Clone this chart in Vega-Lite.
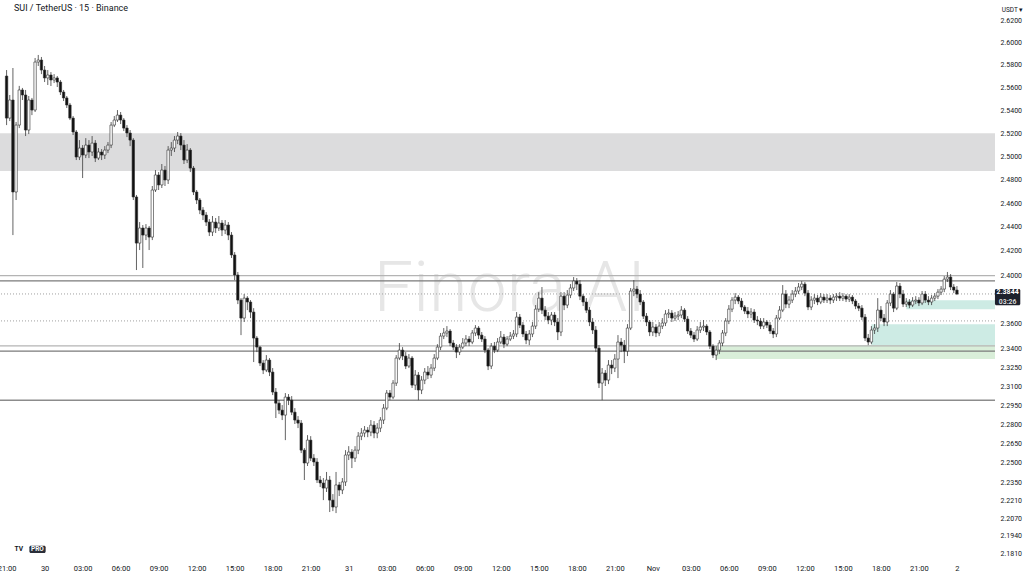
{
  "$schema": "https://vega.github.io/schema/vega-lite/v6.json",
  "width": 995,
  "height": 560,
  "autosize": {"type": "none"},
  "padding": {"left": 0, "top": 0, "right": 29, "bottom": 16},
  "background": "#ffffff",
  "config": {
    "view": {"stroke": null},
    "font": "Roboto",
    "axisX": {"domain": false, "ticks": false, "grid": false, "labelFont": "Roboto", "labelFontSize": 7.5, "labelColor": "#131722", "labelPadding": 4},
    "axisY": {"domain": false, "ticks": false, "grid": false, "labelFont": "Roboto", "labelFontSize": 7, "labelColor": "#131722", "labelPadding": 5, "titleFont": "Roboto", "titleFontSize": 6.5, "titleFontWeight": "normal", "titleColor": "#131722"}
  },
  "title": {"text": "SUI / TetherUS · 15 · Binance", "anchor": "start", "frame": "group", "fontSize": 9, "font": "Roboto", "fontWeight": "normal", "color": "#131722", "offset": -13, "dx": 14},
  "datasets": {
    "candles": [
      {"t":"2025-10-29T21:00Z","o":2.5700,"h":2.5753,"l":2.5270,"c":2.5331},
      {"t":"2025-10-29T21:15Z","o":2.5331,"h":2.5533,"l":2.5305,"c":2.5489},
      {"t":"2025-10-29T21:30Z","o":2.5489,"h":2.5771,"l":2.4332,"c":2.4695},
      {"t":"2025-10-29T21:45Z","o":2.4695,"h":2.5297,"l":2.4627,"c":2.5270},
      {"t":"2025-10-29T22:00Z","o":2.5270,"h":2.5613,"l":2.5244,"c":2.5577},
      {"t":"2025-10-29T22:15Z","o":2.5577,"h":2.5595,"l":2.5489,"c":2.5533},
      {"t":"2025-10-29T22:30Z","o":2.5533,"h":2.5577,"l":2.5175,"c":2.5227},
      {"t":"2025-10-29T22:45Z","o":2.5227,"h":2.5524,"l":2.5192,"c":2.5489},
      {"t":"2025-10-29T23:00Z","o":2.5489,"h":2.5507,"l":2.5357,"c":2.5401},
      {"t":"2025-10-29T23:15Z","o":2.5401,"h":2.5860,"l":2.5384,"c":2.5824},
      {"t":"2025-10-29T23:30Z","o":2.5824,"h":2.5887,"l":2.5789,"c":2.5842},
      {"t":"2025-10-29T23:45Z","o":2.5842,"h":2.5869,"l":2.5717,"c":2.5753},
      {"t":"2025-10-30T00:00Z","o":2.5753,"h":2.5789,"l":2.5647,"c":2.5683},
      {"t":"2025-10-30T00:15Z","o":2.5683,"h":2.5753,"l":2.5621,"c":2.5709},
      {"t":"2025-10-30T00:30Z","o":2.5709,"h":2.5735,"l":2.5612,"c":2.5665},
      {"t":"2025-10-30T00:45Z","o":2.5665,"h":2.5717,"l":2.5638,"c":2.5683},
      {"t":"2025-10-30T01:00Z","o":2.5683,"h":2.5700,"l":2.5603,"c":2.5647},
      {"t":"2025-10-30T01:15Z","o":2.5647,"h":2.5665,"l":2.5533,"c":2.5559},
      {"t":"2025-10-30T01:30Z","o":2.5559,"h":2.5577,"l":2.5480,"c":2.5507},
      {"t":"2025-10-30T01:45Z","o":2.5507,"h":2.5524,"l":2.5419,"c":2.5445},
      {"t":"2025-10-30T02:00Z","o":2.5445,"h":2.5463,"l":2.5314,"c":2.5331},
      {"t":"2025-10-30T02:15Z","o":2.5331,"h":2.5349,"l":2.5184,"c":2.5210},
      {"t":"2025-10-30T02:30Z","o":2.5210,"h":2.5227,"l":2.4968,"c":2.4994},
      {"t":"2025-10-30T02:45Z","o":2.4994,"h":2.5140,"l":2.4968,"c":2.5071},
      {"t":"2025-10-30T03:00Z","o":2.5071,"h":2.5097,"l":2.4814,"c":2.5011},
      {"t":"2025-10-30T03:15Z","o":2.5011,"h":2.5157,"l":2.4985,"c":2.5097},
      {"t":"2025-10-30T03:30Z","o":2.5097,"h":2.5140,"l":2.4985,"c":2.5037},
      {"t":"2025-10-30T03:45Z","o":2.5037,"h":2.5175,"l":2.5003,"c":2.5114},
      {"t":"2025-10-30T04:00Z","o":2.5114,"h":2.5140,"l":2.4951,"c":2.4985},
      {"t":"2025-10-30T04:15Z","o":2.4985,"h":2.5071,"l":2.4968,"c":2.5037},
      {"t":"2025-10-30T04:30Z","o":2.5037,"h":2.5062,"l":2.4968,"c":2.5011},
      {"t":"2025-10-30T04:45Z","o":2.5011,"h":2.5088,"l":2.4977,"c":2.5054},
      {"t":"2025-10-30T05:00Z","o":2.5054,"h":2.5123,"l":2.5028,"c":2.5097},
      {"t":"2025-10-30T05:15Z","o":2.5097,"h":2.5297,"l":2.5071,"c":2.5270},
      {"t":"2025-10-30T05:30Z","o":2.5270,"h":2.5349,"l":2.5253,"c":2.5314},
      {"t":"2025-10-30T05:45Z","o":2.5314,"h":2.5401,"l":2.5297,"c":2.5357},
      {"t":"2025-10-30T06:00Z","o":2.5357,"h":2.5384,"l":2.5279,"c":2.5314},
      {"t":"2025-10-30T06:15Z","o":2.5314,"h":2.5331,"l":2.5218,"c":2.5244},
      {"t":"2025-10-30T06:30Z","o":2.5244,"h":2.5270,"l":2.5166,"c":2.5201},
      {"t":"2025-10-30T06:45Z","o":2.5201,"h":2.5227,"l":2.5088,"c":2.5140},
      {"t":"2025-10-30T07:00Z","o":2.5140,"h":2.5157,"l":2.4627,"c":2.4653},
      {"t":"2025-10-30T07:15Z","o":2.4653,"h":2.4670,"l":2.4041,"c":2.4265},
      {"t":"2025-10-30T07:30Z","o":2.4265,"h":2.4441,"l":2.4207,"c":2.4391},
      {"t":"2025-10-30T07:45Z","o":2.4391,"h":2.4416,"l":2.4058,"c":2.4332},
      {"t":"2025-10-30T08:00Z","o":2.4332,"h":2.4424,"l":2.4290,"c":2.4391},
      {"t":"2025-10-30T08:15Z","o":2.4391,"h":2.4408,"l":2.4207,"c":2.4315},
      {"t":"2025-10-30T08:30Z","o":2.4315,"h":2.4746,"l":2.4290,"c":2.4712},
      {"t":"2025-10-30T08:45Z","o":2.4712,"h":2.4882,"l":2.4695,"c":2.4840},
      {"t":"2025-10-30T09:00Z","o":2.4840,"h":2.4865,"l":2.4712,"c":2.4755},
      {"t":"2025-10-30T09:15Z","o":2.4755,"h":2.4934,"l":2.4729,"c":2.4882},
      {"t":"2025-10-30T09:30Z","o":2.4882,"h":2.4917,"l":2.4746,"c":2.4797},
      {"t":"2025-10-30T09:45Z","o":2.4797,"h":2.5088,"l":2.4763,"c":2.5054},
      {"t":"2025-10-30T10:00Z","o":2.5054,"h":2.5123,"l":2.5003,"c":2.5071},
      {"t":"2025-10-30T10:15Z","o":2.5071,"h":2.5175,"l":2.5037,"c":2.5140},
      {"t":"2025-10-30T10:30Z","o":2.5140,"h":2.5210,"l":2.5105,"c":2.5175},
      {"t":"2025-10-30T10:45Z","o":2.5175,"h":2.5201,"l":2.5054,"c":2.5097},
      {"t":"2025-10-30T11:00Z","o":2.5097,"h":2.5140,"l":2.4934,"c":2.4968},
      {"t":"2025-10-30T11:15Z","o":2.4968,"h":2.5105,"l":2.4942,"c":2.5054},
      {"t":"2025-10-30T11:30Z","o":2.5054,"h":2.5071,"l":2.4865,"c":2.4899},
      {"t":"2025-10-30T11:45Z","o":2.4899,"h":2.4917,"l":2.4669,"c":2.4695},
      {"t":"2025-10-30T12:00Z","o":2.4695,"h":2.4712,"l":2.4593,"c":2.4627},
      {"t":"2025-10-30T12:15Z","o":2.4627,"h":2.4644,"l":2.4508,"c":2.4542},
      {"t":"2025-10-30T12:30Z","o":2.4542,"h":2.4567,"l":2.4458,"c":2.4500},
      {"t":"2025-10-30T12:45Z","o":2.4500,"h":2.4525,"l":2.4408,"c":2.4441},
      {"t":"2025-10-30T13:00Z","o":2.4441,"h":2.4466,"l":2.4324,"c":2.4357},
      {"t":"2025-10-30T13:15Z","o":2.4357,"h":2.4492,"l":2.4324,"c":2.4441},
      {"t":"2025-10-30T13:30Z","o":2.4441,"h":2.4475,"l":2.4349,"c":2.4391},
      {"t":"2025-10-30T13:45Z","o":2.4391,"h":2.4492,"l":2.4366,"c":2.4433},
      {"t":"2025-10-30T14:00Z","o":2.4433,"h":2.4458,"l":2.4324,"c":2.4374},
      {"t":"2025-10-30T14:15Z","o":2.4374,"h":2.4458,"l":2.4340,"c":2.4416},
      {"t":"2025-10-30T14:30Z","o":2.4416,"h":2.4441,"l":2.4290,"c":2.4332},
      {"t":"2025-10-30T14:45Z","o":2.4332,"h":2.4357,"l":2.4141,"c":2.4166},
      {"t":"2025-10-30T15:00Z","o":2.4166,"h":2.4190,"l":2.3958,"c":2.4000},
      {"t":"2025-10-30T15:15Z","o":2.4000,"h":2.4025,"l":2.3761,"c":2.3794},
      {"t":"2025-10-30T15:30Z","o":2.3794,"h":2.3810,"l":2.3509,"c":2.3647},
      {"t":"2025-10-30T15:45Z","o":2.3647,"h":2.3843,"l":2.3615,"c":2.3810},
      {"t":"2025-10-30T16:00Z","o":2.3810,"h":2.3826,"l":2.3712,"c":2.3778},
      {"t":"2025-10-30T16:15Z","o":2.3778,"h":2.3794,"l":2.3647,"c":2.3696},
      {"t":"2025-10-30T16:30Z","o":2.3696,"h":2.3728,"l":2.3292,"c":2.3485},
      {"t":"2025-10-30T16:45Z","o":2.3485,"h":2.3501,"l":2.3372,"c":2.3412},
      {"t":"2025-10-30T17:00Z","o":2.3412,"h":2.3420,"l":2.3260,"c":2.3284},
      {"t":"2025-10-30T17:15Z","o":2.3284,"h":2.3308,"l":2.3196,"c":2.3228},
      {"t":"2025-10-30T17:30Z","o":2.3228,"h":2.3348,"l":2.3212,"c":2.3308},
      {"t":"2025-10-30T17:45Z","o":2.3308,"h":2.3324,"l":2.3180,"c":2.3212},
      {"t":"2025-10-30T18:00Z","o":2.3212,"h":2.3244,"l":2.3029,"c":2.3053},
      {"t":"2025-10-30T18:15Z","o":2.3053,"h":2.3085,"l":2.2848,"c":2.2965},
      {"t":"2025-10-30T18:30Z","o":2.2965,"h":2.2989,"l":2.2879,"c":2.2910},
      {"t":"2025-10-30T18:45Z","o":2.2910,"h":2.2950,"l":2.2832,"c":2.2871},
      {"t":"2025-10-30T19:00Z","o":2.2871,"h":2.3045,"l":2.2675,"c":2.3013},
      {"t":"2025-10-30T19:15Z","o":2.3013,"h":2.3037,"l":2.2950,"c":2.2989},
      {"t":"2025-10-30T19:30Z","o":2.2989,"h":2.3021,"l":2.2871,"c":2.2894},
      {"t":"2025-10-30T19:45Z","o":2.2894,"h":2.2926,"l":2.2801,"c":2.2832},
      {"t":"2025-10-30T20:00Z","o":2.2832,"h":2.2863,"l":2.2769,"c":2.2808},
      {"t":"2025-10-30T20:15Z","o":2.2808,"h":2.2832,"l":2.2574,"c":2.2597},
      {"t":"2025-10-30T20:30Z","o":2.2597,"h":2.2613,"l":2.2366,"c":2.2497},
      {"t":"2025-10-30T20:45Z","o":2.2497,"h":2.2714,"l":2.2474,"c":2.2675},
      {"t":"2025-10-30T21:00Z","o":2.2675,"h":2.2706,"l":2.2512,"c":2.2535},
      {"t":"2025-10-30T21:15Z","o":2.2535,"h":2.2566,"l":2.2474,"c":2.2505},
      {"t":"2025-10-30T21:30Z","o":2.2505,"h":2.2535,"l":2.2343,"c":2.2366},
      {"t":"2025-10-30T21:45Z","o":2.2366,"h":2.2397,"l":2.2312,"c":2.2343},
      {"t":"2025-10-30T22:00Z","o":2.2343,"h":2.2381,"l":2.2212,"c":2.2304},
      {"t":"2025-10-30T22:15Z","o":2.2304,"h":2.2428,"l":2.2274,"c":2.2366},
      {"t":"2025-10-30T22:30Z","o":2.2366,"h":2.2397,"l":2.2121,"c":2.2212},
      {"t":"2025-10-30T22:45Z","o":2.2212,"h":2.2258,"l":2.2128,"c":2.2159},
      {"t":"2025-10-30T23:00Z","o":2.2159,"h":2.2428,"l":2.2113,"c":2.2328},
      {"t":"2025-10-30T23:15Z","o":2.2328,"h":2.2351,"l":2.2243,"c":2.2289},
      {"t":"2025-10-30T23:30Z","o":2.2289,"h":2.2381,"l":2.2258,"c":2.2351},
      {"t":"2025-10-30T23:45Z","o":2.2351,"h":2.2597,"l":2.2320,"c":2.2559},
      {"t":"2025-10-31T00:00Z","o":2.2559,"h":2.2628,"l":2.2520,"c":2.2582},
      {"t":"2025-10-31T00:15Z","o":2.2582,"h":2.2605,"l":2.2458,"c":2.2535},
      {"t":"2025-10-31T00:30Z","o":2.2535,"h":2.2628,"l":2.2505,"c":2.2597},
      {"t":"2025-10-31T00:45Z","o":2.2597,"h":2.2738,"l":2.2566,"c":2.2706},
      {"t":"2025-10-31T01:00Z","o":2.2706,"h":2.2769,"l":2.2675,"c":2.2730},
      {"t":"2025-10-31T01:15Z","o":2.2730,"h":2.2785,"l":2.2698,"c":2.2753},
      {"t":"2025-10-31T01:30Z","o":2.2753,"h":2.2777,"l":2.2698,"c":2.2738},
      {"t":"2025-10-31T01:45Z","o":2.2738,"h":2.2832,"l":2.2706,"c":2.2792},
      {"t":"2025-10-31T02:00Z","o":2.2792,"h":2.2824,"l":2.2690,"c":2.2730},
      {"t":"2025-10-31T02:15Z","o":2.2730,"h":2.2808,"l":2.2690,"c":2.2769},
      {"t":"2025-10-31T02:30Z","o":2.2769,"h":2.2855,"l":2.2738,"c":2.2832},
      {"t":"2025-10-31T02:45Z","o":2.2832,"h":2.2958,"l":2.2801,"c":2.2926},
      {"t":"2025-10-31T03:00Z","o":2.2926,"h":2.3069,"l":2.2910,"c":2.3045},
      {"t":"2025-10-31T03:15Z","o":2.3045,"h":2.3069,"l":2.2989,"c":2.3013},
      {"t":"2025-10-31T03:30Z","o":2.3013,"h":2.3148,"l":2.2997,"c":2.3124},
      {"t":"2025-10-31T03:45Z","o":2.3124,"h":2.3348,"l":2.3101,"c":2.3324},
      {"t":"2025-10-31T04:00Z","o":2.3324,"h":2.3445,"l":2.3308,"c":2.3388},
      {"t":"2025-10-31T04:15Z","o":2.3388,"h":2.3412,"l":2.3308,"c":2.3340},
      {"t":"2025-10-31T04:30Z","o":2.3340,"h":2.3372,"l":2.3236,"c":2.3260},
      {"t":"2025-10-31T04:45Z","o":2.3260,"h":2.3356,"l":2.3244,"c":2.3324},
      {"t":"2025-10-31T05:00Z","o":2.3324,"h":2.3340,"l":2.3085,"c":2.3108},
      {"t":"2025-10-31T05:15Z","o":2.3108,"h":2.3228,"l":2.3069,"c":2.3188},
      {"t":"2025-10-31T05:30Z","o":2.3188,"h":2.3212,"l":2.2989,"c":2.3069},
      {"t":"2025-10-31T05:45Z","o":2.3069,"h":2.3180,"l":2.3037,"c":2.3148},
      {"t":"2025-10-31T06:00Z","o":2.3148,"h":2.3244,"l":2.3116,"c":2.3212},
      {"t":"2025-10-31T06:15Z","o":2.3212,"h":2.3260,"l":2.3156,"c":2.3188},
      {"t":"2025-10-31T06:30Z","o":2.3188,"h":2.3276,"l":2.3164,"c":2.3244},
      {"t":"2025-10-31T06:45Z","o":2.3244,"h":2.3356,"l":2.3220,"c":2.3324},
      {"t":"2025-10-31T07:00Z","o":2.3324,"h":2.3436,"l":2.3308,"c":2.3412},
      {"t":"2025-10-31T07:15Z","o":2.3412,"h":2.3526,"l":2.3388,"c":2.3501},
      {"t":"2025-10-31T07:30Z","o":2.3501,"h":2.3566,"l":2.3477,"c":2.3526},
      {"t":"2025-10-31T07:45Z","o":2.3526,"h":2.3582,"l":2.3493,"c":2.3542},
      {"t":"2025-10-31T08:00Z","o":2.3542,"h":2.3558,"l":2.3420,"c":2.3445},
      {"t":"2025-10-31T08:15Z","o":2.3445,"h":2.3469,"l":2.3388,"c":2.3412},
      {"t":"2025-10-31T08:30Z","o":2.3412,"h":2.3436,"l":2.3324,"c":2.3372},
      {"t":"2025-10-31T08:45Z","o":2.3372,"h":2.3436,"l":2.3348,"c":2.3412},
      {"t":"2025-10-31T09:00Z","o":2.3412,"h":2.3485,"l":2.3396,"c":2.3445},
      {"t":"2025-10-31T09:15Z","o":2.3445,"h":2.3509,"l":2.3420,"c":2.3477},
      {"t":"2025-10-31T09:30Z","o":2.3477,"h":2.3501,"l":2.3420,"c":2.3453},
      {"t":"2025-10-31T09:45Z","o":2.3453,"h":2.3550,"l":2.3436,"c":2.3526},
      {"t":"2025-10-31T10:00Z","o":2.3526,"h":2.3590,"l":2.3501,"c":2.3566},
      {"t":"2025-10-31T10:15Z","o":2.3566,"h":2.3582,"l":2.3477,"c":2.3509},
      {"t":"2025-10-31T10:30Z","o":2.3509,"h":2.3534,"l":2.3453,"c":2.3477},
      {"t":"2025-10-31T10:45Z","o":2.3477,"h":2.3501,"l":2.3364,"c":2.3388},
      {"t":"2025-10-31T11:00Z","o":2.3388,"h":2.3404,"l":2.3228,"c":2.3260},
      {"t":"2025-10-31T11:15Z","o":2.3260,"h":2.3445,"l":2.3236,"c":2.3420},
      {"t":"2025-10-31T11:30Z","o":2.3420,"h":2.3453,"l":2.3364,"c":2.3388},
      {"t":"2025-10-31T11:45Z","o":2.3388,"h":2.3485,"l":2.3372,"c":2.3453},
      {"t":"2025-10-31T12:00Z","o":2.3453,"h":2.3542,"l":2.3436,"c":2.3493},
      {"t":"2025-10-31T12:15Z","o":2.3493,"h":2.3518,"l":2.3404,"c":2.3436},
      {"t":"2025-10-31T12:30Z","o":2.3436,"h":2.3501,"l":2.3420,"c":2.3477},
      {"t":"2025-10-31T12:45Z","o":2.3477,"h":2.3534,"l":2.3461,"c":2.3501},
      {"t":"2025-10-31T13:00Z","o":2.3501,"h":2.3550,"l":2.3477,"c":2.3518},
      {"t":"2025-10-31T13:15Z","o":2.3518,"h":2.3696,"l":2.3493,"c":2.3655},
      {"t":"2025-10-31T13:30Z","o":2.3655,"h":2.3680,"l":2.3566,"c":2.3590},
      {"t":"2025-10-31T13:45Z","o":2.3590,"h":2.3615,"l":2.3493,"c":2.3518},
      {"t":"2025-10-31T14:00Z","o":2.3518,"h":2.3542,"l":2.3436,"c":2.3469},
      {"t":"2025-10-31T14:15Z","o":2.3469,"h":2.3550,"l":2.3428,"c":2.3518},
      {"t":"2025-10-31T14:30Z","o":2.3518,"h":2.3615,"l":2.3493,"c":2.3582},
      {"t":"2025-10-31T14:45Z","o":2.3582,"h":2.3753,"l":2.3558,"c":2.3720},
      {"t":"2025-10-31T15:00Z","o":2.3720,"h":2.3859,"l":2.3696,"c":2.3810},
      {"t":"2025-10-31T15:15Z","o":2.3810,"h":2.3901,"l":2.3680,"c":2.3712},
      {"t":"2025-10-31T15:30Z","o":2.3712,"h":2.3745,"l":2.3631,"c":2.3663},
      {"t":"2025-10-31T15:45Z","o":2.3663,"h":2.3696,"l":2.3598,"c":2.3631},
      {"t":"2025-10-31T16:00Z","o":2.3631,"h":2.3696,"l":2.3590,"c":2.3672},
      {"t":"2025-10-31T16:15Z","o":2.3672,"h":2.3696,"l":2.3582,"c":2.3615},
      {"t":"2025-10-31T16:30Z","o":2.3615,"h":2.3647,"l":2.3469,"c":2.3534},
      {"t":"2025-10-31T16:45Z","o":2.3534,"h":2.3859,"l":2.3501,"c":2.3826},
      {"t":"2025-10-31T17:00Z","o":2.3826,"h":2.3859,"l":2.3712,"c":2.3753},
      {"t":"2025-10-31T17:15Z","o":2.3753,"h":2.3876,"l":2.3728,"c":2.3835},
      {"t":"2025-10-31T17:30Z","o":2.3835,"h":2.3925,"l":2.3810,"c":2.3893},
      {"t":"2025-10-31T17:45Z","o":2.3893,"h":2.3983,"l":2.3868,"c":2.3950},
      {"t":"2025-10-31T18:00Z","o":2.3950,"h":2.3975,"l":2.3876,"c":2.3925},
      {"t":"2025-10-31T18:15Z","o":2.3925,"h":2.3958,"l":2.3794,"c":2.3826},
      {"t":"2025-10-31T18:30Z","o":2.3826,"h":2.3843,"l":2.3745,"c":2.3778},
      {"t":"2025-10-31T18:45Z","o":2.3778,"h":2.3810,"l":2.3688,"c":2.3712},
      {"t":"2025-10-31T19:00Z","o":2.3712,"h":2.3737,"l":2.3582,"c":2.3615},
      {"t":"2025-10-31T19:15Z","o":2.3615,"h":2.3647,"l":2.3518,"c":2.3550},
      {"t":"2025-10-31T19:30Z","o":2.3550,"h":2.3582,"l":2.3372,"c":2.3404},
      {"t":"2025-10-31T19:45Z","o":2.3404,"h":2.3428,"l":2.3085,"c":2.3124},
      {"t":"2025-10-31T20:00Z","o":2.3124,"h":2.3244,"l":2.2989,"c":2.3204},
      {"t":"2025-10-31T20:15Z","o":2.3204,"h":2.3228,"l":2.3101,"c":2.3148},
      {"t":"2025-10-31T20:30Z","o":2.3148,"h":2.3308,"l":2.3116,"c":2.3268},
      {"t":"2025-10-31T20:45Z","o":2.3268,"h":2.3308,"l":2.3196,"c":2.3244},
      {"t":"2025-10-31T21:00Z","o":2.3244,"h":2.3356,"l":2.3212,"c":2.3316},
      {"t":"2025-10-31T21:15Z","o":2.3316,"h":2.3509,"l":2.3164,"c":2.3453},
      {"t":"2025-10-31T21:30Z","o":2.3453,"h":2.3485,"l":2.3372,"c":2.3428},
      {"t":"2025-10-31T21:45Z","o":2.3428,"h":2.3469,"l":2.3284,"c":2.3380},
      {"t":"2025-10-31T22:00Z","o":2.3380,"h":2.3598,"l":2.3340,"c":2.3566},
      {"t":"2025-10-31T22:15Z","o":2.3566,"h":2.3893,"l":2.3550,"c":2.3868},
      {"t":"2025-10-31T22:30Z","o":2.3868,"h":2.3958,"l":2.3826,"c":2.3884},
      {"t":"2025-10-31T22:45Z","o":2.3884,"h":2.3909,"l":2.3810,"c":2.3843},
      {"t":"2025-10-31T23:00Z","o":2.3843,"h":2.3876,"l":2.3753,"c":2.3778},
      {"t":"2025-10-31T23:15Z","o":2.3778,"h":2.3794,"l":2.3639,"c":2.3663},
      {"t":"2025-10-31T23:30Z","o":2.3663,"h":2.3688,"l":2.3582,"c":2.3615},
      {"t":"2025-10-31T23:45Z","o":2.3615,"h":2.3631,"l":2.3501,"c":2.3534},
      {"t":"2025-11-01T00:00Z","o":2.3534,"h":2.3615,"l":2.3501,"c":2.3574},
      {"t":"2025-11-01T00:15Z","o":2.3574,"h":2.3598,"l":2.3493,"c":2.3526},
      {"t":"2025-11-01T00:30Z","o":2.3526,"h":2.3615,"l":2.3501,"c":2.3582},
      {"t":"2025-11-01T00:45Z","o":2.3582,"h":2.3647,"l":2.3558,"c":2.3607},
      {"t":"2025-11-01T01:00Z","o":2.3607,"h":2.3712,"l":2.3582,"c":2.3680},
      {"t":"2025-11-01T01:15Z","o":2.3680,"h":2.3720,"l":2.3647,"c":2.3688},
      {"t":"2025-11-01T01:30Z","o":2.3688,"h":2.3712,"l":2.3615,"c":2.3647},
      {"t":"2025-11-01T01:45Z","o":2.3647,"h":2.3696,"l":2.3623,"c":2.3663},
      {"t":"2025-11-01T02:00Z","o":2.3663,"h":2.3704,"l":2.3631,"c":2.3672},
      {"t":"2025-11-01T02:15Z","o":2.3672,"h":2.3745,"l":2.3647,"c":2.3712},
      {"t":"2025-11-01T02:30Z","o":2.3712,"h":2.3728,"l":2.3615,"c":2.3639},
      {"t":"2025-11-01T02:45Z","o":2.3639,"h":2.3663,"l":2.3518,"c":2.3542},
      {"t":"2025-11-01T03:00Z","o":2.3542,"h":2.3566,"l":2.3485,"c":2.3509},
      {"t":"2025-11-01T03:15Z","o":2.3509,"h":2.3534,"l":2.3453,"c":2.3477},
      {"t":"2025-11-01T03:30Z","o":2.3477,"h":2.3582,"l":2.3461,"c":2.3550},
      {"t":"2025-11-01T03:45Z","o":2.3550,"h":2.3615,"l":2.3526,"c":2.3574},
      {"t":"2025-11-01T04:00Z","o":2.3574,"h":2.3631,"l":2.3542,"c":2.3582},
      {"t":"2025-11-01T04:15Z","o":2.3582,"h":2.3598,"l":2.3509,"c":2.3534},
      {"t":"2025-11-01T04:30Z","o":2.3534,"h":2.3550,"l":2.3396,"c":2.3420},
      {"t":"2025-11-01T04:45Z","o":2.3420,"h":2.3436,"l":2.3324,"c":2.3348},
      {"t":"2025-11-01T05:00Z","o":2.3348,"h":2.3420,"l":2.3308,"c":2.3388},
      {"t":"2025-11-01T05:15Z","o":2.3388,"h":2.3469,"l":2.3356,"c":2.3445},
      {"t":"2025-11-01T05:30Z","o":2.3445,"h":2.3550,"l":2.3420,"c":2.3526},
      {"t":"2025-11-01T05:45Z","o":2.3526,"h":2.3647,"l":2.3501,"c":2.3623},
      {"t":"2025-11-01T06:00Z","o":2.3623,"h":2.3753,"l":2.3598,"c":2.3720},
      {"t":"2025-11-01T06:15Z","o":2.3720,"h":2.3818,"l":2.3696,"c":2.3794},
      {"t":"2025-11-01T06:30Z","o":2.3794,"h":2.3851,"l":2.3761,"c":2.3818},
      {"t":"2025-11-01T06:45Z","o":2.3818,"h":2.3835,"l":2.3761,"c":2.3786},
      {"t":"2025-11-01T07:00Z","o":2.3786,"h":2.3810,"l":2.3712,"c":2.3737},
      {"t":"2025-11-01T07:15Z","o":2.3737,"h":2.3753,"l":2.3680,"c":2.3704},
      {"t":"2025-11-01T07:30Z","o":2.3704,"h":2.3737,"l":2.3647,"c":2.3680},
      {"t":"2025-11-01T07:45Z","o":2.3680,"h":2.3728,"l":2.3647,"c":2.3696},
      {"t":"2025-11-01T08:00Z","o":2.3696,"h":2.3720,"l":2.3607,"c":2.3631},
      {"t":"2025-11-01T08:15Z","o":2.3631,"h":2.3663,"l":2.3590,"c":2.3623},
      {"t":"2025-11-01T08:30Z","o":2.3623,"h":2.3647,"l":2.3558,"c":2.3582},
      {"t":"2025-11-01T08:45Z","o":2.3582,"h":2.3647,"l":2.3558,"c":2.3615},
      {"t":"2025-11-01T09:00Z","o":2.3615,"h":2.3631,"l":2.3566,"c":2.3590},
      {"t":"2025-11-01T09:15Z","o":2.3590,"h":2.3615,"l":2.3518,"c":2.3542},
      {"t":"2025-11-01T09:30Z","o":2.3542,"h":2.3566,"l":2.3485,"c":2.3518},
      {"t":"2025-11-01T09:45Z","o":2.3518,"h":2.3672,"l":2.3493,"c":2.3647},
      {"t":"2025-11-01T10:00Z","o":2.3647,"h":2.3745,"l":2.3631,"c":2.3712},
      {"t":"2025-11-01T10:15Z","o":2.3712,"h":2.3917,"l":2.3696,"c":2.3843},
      {"t":"2025-11-01T10:30Z","o":2.3843,"h":2.3876,"l":2.3728,"c":2.3761},
      {"t":"2025-11-01T10:45Z","o":2.3761,"h":2.3826,"l":2.3728,"c":2.3794},
      {"t":"2025-11-01T11:00Z","o":2.3794,"h":2.3876,"l":2.3770,"c":2.3843},
      {"t":"2025-11-01T11:15Z","o":2.3843,"h":2.3901,"l":2.3818,"c":2.3868},
      {"t":"2025-11-01T11:30Z","o":2.3868,"h":2.3934,"l":2.3843,"c":2.3901},
      {"t":"2025-11-01T11:45Z","o":2.3901,"h":2.3950,"l":2.3876,"c":2.3925},
      {"t":"2025-11-01T12:00Z","o":2.3925,"h":2.3942,"l":2.3826,"c":2.3851},
      {"t":"2025-11-01T12:15Z","o":2.3851,"h":2.3876,"l":2.3712,"c":2.3737},
      {"t":"2025-11-01T12:30Z","o":2.3737,"h":2.3826,"l":2.3712,"c":2.3794},
      {"t":"2025-11-01T12:45Z","o":2.3794,"h":2.3843,"l":2.3761,"c":2.3810},
      {"t":"2025-11-01T13:00Z","o":2.3810,"h":2.3835,"l":2.3753,"c":2.3778},
      {"t":"2025-11-01T13:15Z","o":2.3778,"h":2.3851,"l":2.3761,"c":2.3818},
      {"t":"2025-11-01T13:30Z","o":2.3818,"h":2.3843,"l":2.3770,"c":2.3794},
      {"t":"2025-11-01T13:45Z","o":2.3794,"h":2.3843,"l":2.3770,"c":2.3810},
      {"t":"2025-11-01T14:00Z","o":2.3810,"h":2.3835,"l":2.3761,"c":2.3794},
      {"t":"2025-11-01T14:15Z","o":2.3794,"h":2.3843,"l":2.3770,"c":2.3818},
      {"t":"2025-11-01T14:30Z","o":2.3818,"h":2.3851,"l":2.3786,"c":2.3826},
      {"t":"2025-11-01T14:45Z","o":2.3826,"h":2.3859,"l":2.3786,"c":2.3810},
      {"t":"2025-11-01T15:00Z","o":2.3810,"h":2.3851,"l":2.3786,"c":2.3826},
      {"t":"2025-11-01T15:15Z","o":2.3826,"h":2.3843,"l":2.3778,"c":2.3802},
      {"t":"2025-11-01T15:30Z","o":2.3802,"h":2.3843,"l":2.3778,"c":2.3818},
      {"t":"2025-11-01T15:45Z","o":2.3818,"h":2.3835,"l":2.3761,"c":2.3786},
      {"t":"2025-11-01T16:00Z","o":2.3786,"h":2.3802,"l":2.3720,"c":2.3745},
      {"t":"2025-11-01T16:15Z","o":2.3745,"h":2.3770,"l":2.3704,"c":2.3728},
      {"t":"2025-11-01T16:30Z","o":2.3728,"h":2.3753,"l":2.3631,"c":2.3655},
      {"t":"2025-11-01T16:45Z","o":2.3655,"h":2.3680,"l":2.3461,"c":2.3485},
      {"t":"2025-11-01T17:00Z","o":2.3485,"h":2.3518,"l":2.3428,"c":2.3453},
      {"t":"2025-11-01T17:15Z","o":2.3453,"h":2.3582,"l":2.3436,"c":2.3550},
      {"t":"2025-11-01T17:30Z","o":2.3550,"h":2.3598,"l":2.3518,"c":2.3566},
      {"t":"2025-11-01T17:45Z","o":2.3566,"h":2.3810,"l":2.3534,"c":2.3712},
      {"t":"2025-11-01T18:00Z","o":2.3712,"h":2.3745,"l":2.3623,"c":2.3647},
      {"t":"2025-11-01T18:15Z","o":2.3647,"h":2.3680,"l":2.3582,"c":2.3615},
      {"t":"2025-11-01T18:30Z","o":2.3615,"h":2.3794,"l":2.3582,"c":2.3770},
      {"t":"2025-11-01T18:45Z","o":2.3770,"h":2.3876,"l":2.3745,"c":2.3843},
      {"t":"2025-11-01T19:00Z","o":2.3843,"h":2.3859,"l":2.3696,"c":2.3728},
      {"t":"2025-11-01T19:15Z","o":2.3728,"h":2.3942,"l":2.3712,"c":2.3909},
      {"t":"2025-11-01T19:30Z","o":2.3909,"h":2.3934,"l":2.3810,"c":2.3843},
      {"t":"2025-11-01T19:45Z","o":2.3843,"h":2.3876,"l":2.3737,"c":2.3761},
      {"t":"2025-11-01T20:00Z","o":2.3761,"h":2.3810,"l":2.3737,"c":2.3778},
      {"t":"2025-11-01T20:15Z","o":2.3778,"h":2.3802,"l":2.3728,"c":2.3753},
      {"t":"2025-11-01T20:30Z","o":2.3753,"h":2.3818,"l":2.3737,"c":2.3786},
      {"t":"2025-11-01T20:45Z","o":2.3786,"h":2.3826,"l":2.3761,"c":2.3794},
      {"t":"2025-11-01T21:00Z","o":2.3794,"h":2.3818,"l":2.3745,"c":2.3770},
      {"t":"2025-11-01T21:15Z","o":2.3770,"h":2.3868,"l":2.3753,"c":2.3843},
      {"t":"2025-11-01T21:30Z","o":2.3843,"h":2.3868,"l":2.3770,"c":2.3794},
      {"t":"2025-11-01T21:45Z","o":2.3794,"h":2.3826,"l":2.3753,"c":2.3778},
      {"t":"2025-11-01T22:00Z","o":2.3778,"h":2.3835,"l":2.3753,"c":2.3810},
      {"t":"2025-11-01T22:15Z","o":2.3810,"h":2.3851,"l":2.3786,"c":2.3826},
      {"t":"2025-11-01T22:30Z","o":2.3826,"h":2.3884,"l":2.3802,"c":2.3859},
      {"t":"2025-11-01T22:45Z","o":2.3859,"h":2.3909,"l":2.3835,"c":2.3884},
      {"t":"2025-11-01T23:00Z","o":2.3884,"h":2.3991,"l":2.3859,"c":2.3966},
      {"t":"2025-11-01T23:15Z","o":2.3966,"h":2.4025,"l":2.3942,"c":2.3983},
      {"t":"2025-11-01T23:30Z","o":2.3983,"h":2.4008,"l":2.3876,"c":2.3901},
      {"t":"2025-11-01T23:45Z","o":2.3901,"h":2.3925,"l":2.3851,"c":2.3876},
      {"t":"2025-11-02T00:00Z","o":2.3876,"h":2.3909,"l":2.3835,"c":2.3844}
    ],
    "levels": [
      {"p": 2.3995, "k": "light"},
      {"p": 2.3952, "k": "dark"},
      {"p": 2.3844, "k": "dot"},
      {"p": 2.3624, "k": "dot"},
      {"p": 2.3422, "k": "light"},
      {"p": 2.3380, "k": "dark"},
      {"p": 2.2988, "k": "mid"}
    ],
    "zones": [
      {"t1": "2025-10-29T18:00Z", "t2": "2025-11-02T06:00Z", "p1": 2.4875, "p2": 2.5200, "k": "supply"},
      {"t1": "2025-11-01T20:00Z", "t2": "2025-11-02T06:00Z", "p1": 2.3719, "p2": 2.3793, "k": "teal"},
      {"t1": "2025-11-01T17:15Z", "t2": "2025-11-02T06:00Z", "p1": 2.3428, "p2": 2.3597, "k": "teal"},
      {"t1": "2025-11-01T05:00Z", "t2": "2025-11-02T06:00Z", "p1": 2.3316, "p2": 2.3428, "k": "green"}
    ],
    "watermark": [
      {"t": "2025-10-31T12:43Z", "p": 2.3876, "s": "Finora AI"}
    ],
    "boxes": [
      {"t1": "2025-11-02T03:00Z", "t2": "2025-11-02T05:00Z", "p1": 2.3885, "p2": 2.3752, "k": "price"},
      {"t1": "2025-10-29T22:48Z", "t2": "2025-10-30T00:05Z", "p1": 2.1866, "p2": 2.1812, "k": "logo"}
    ],
    "labels": [
      {"t": "2025-11-02T04:00Z", "p": 2.3858, "s": "2.3844", "k": "price"},
      {"t": "2025-11-02T04:00Z", "p": 2.3781, "s": "03:26", "k": "timer"},
      {"t": "2025-10-29T21:58Z", "p": 2.1840, "s": "TV", "k": "logo"},
      {"t": "2025-10-29T23:26Z", "p": 2.1839, "s": "PRO", "k": "pro"}
    ]
  },
  "layer": [
    {
      "data": {"name": "watermark"},
      "mark": {"type": "text", "font": "Roboto", "fontWeight": 300, "fontSize": 70, "color": "#e6e6e6", "align": "center", "baseline": "middle"},
      "encoding": {
        "x": {"field": "t", "type": "temporal", "axis": null},
        "y": {"field": "p", "type": "quantitative", "axis": null},
        "text": {"field": "s"}
      }
    },
    {
      "data": {"name": "zones"},
      "mark": {"type": "rect", "clip": true},
      "encoding": {
        "x": {"field": "t1", "type": "temporal", "axis": null},
        "x2": {"field": "t2"},
        "y": {"field": "p1", "type": "quantitative", "axis": null},
        "y2": {"field": "p2"},
        "color": {"field": "k", "type": "nominal", "legend": null, "scale": {"domain": ["supply", "teal", "green"], "range": ["#dcdcdd", "#cdebe4", "#d9eed9"]}}
      }
    },
    {
      "data": {"name": "levels"},
      "transform": [{"filter": "datum.k !== 'dot'"}],
      "mark": {"type": "rule", "strokeWidth": 1.4},
      "encoding": {
        "y": {"field": "p", "type": "quantitative", "axis": null},
        "stroke": {"field": "k", "type": "nominal", "legend": null, "scale": {"domain": ["light", "dark", "mid"], "range": ["#b4b4b4", "#7a7a7a", "#8c8c8c"]}}
      }
    },
    {
      "data": {"name": "levels"},
      "transform": [{"filter": "datum.k === 'dot'"}],
      "mark": {"type": "rule", "strokeWidth": 1, "strokeDash": [1, 2], "color": "#a0a0a0"},
      "encoding": {
        "y": {"field": "p", "type": "quantitative", "axis": null}
      }
    },
    {
      "data": {"name": "candles"},
      "mark": {"type": "rule", "strokeWidth": 0.8, "color": "#3c3c3c"},
      "encoding": {
        "x": {"field": "t", "type": "temporal", "axis": null},
        "y": {"field": "l", "type": "quantitative", "axis": null},
        "y2": {"field": "h"}
      }
    },
    {
      "data": {"name": "candles"},
      "mark": {"type": "bar", "size": 2.4, "stroke": "#2e2e2e", "strokeWidth": 0.6},
      "encoding": {
        "x": {"field": "t", "type": "temporal", "axis": null, "scale": {"type": "utc", "domain": [{"year": 2025, "month": 10, "date": 29, "hours": 20, "minutes": 52, "seconds": 30, "utc": true}, {"year": 2025, "month": 11, "date": 2, "hours": 2, "minutes": 36, "seconds": 34, "utc": true}]}},
        "y": {"field": "o", "type": "quantitative", "axis": null, "scale": {"type": "log", "domain": [2.1759, 2.6381], "nice": false, "zero": false}},
        "y2": {"field": "c"},
        "fill": {"condition": {"test": "datum.c >= datum.o", "value": "#ffffff"}, "value": "#111111"}
      }
    },
    {
      "data": {"name": "boxes"},
      "mark": {"type": "rect", "clip": false, "cornerRadius": 1.5},
      "encoding": {
        "x": {"field": "t1", "type": "temporal", "axis": null},
        "x2": {"field": "t2"},
        "y": {"field": "p1", "type": "quantitative", "axis": null},
        "y2": {"field": "p2"},
        "fill": {"field": "k", "type": "nominal", "legend": null, "scale": {"domain": ["price", "logo"], "range": ["#1e222d", "#2a2e39"]}}
      }
    },
    {
      "data": {"name": "labels"},
      "mark": {"type": "text", "clip": false, "font": "Roboto", "align": "center", "baseline": "middle", "fontWeight": "bold"},
      "encoding": {
        "x": {"field": "t", "type": "temporal", "axis": {"orient": "bottom", "title": null, "values": [
          {"year": 2025, "month": 10, "date": 29, "hours": 21, "utc": true},
          {"year": 2025, "month": 10, "date": 30, "hours": 0, "utc": true},
          {"year": 2025, "month": 10, "date": 30, "hours": 3, "utc": true},
          {"year": 2025, "month": 10, "date": 30, "hours": 6, "utc": true},
          {"year": 2025, "month": 10, "date": 30, "hours": 9, "utc": true},
          {"year": 2025, "month": 10, "date": 30, "hours": 12, "utc": true},
          {"year": 2025, "month": 10, "date": 30, "hours": 15, "utc": true},
          {"year": 2025, "month": 10, "date": 30, "hours": 18, "utc": true},
          {"year": 2025, "month": 10, "date": 30, "hours": 21, "utc": true},
          {"year": 2025, "month": 10, "date": 31, "hours": 0, "utc": true},
          {"year": 2025, "month": 10, "date": 31, "hours": 3, "utc": true},
          {"year": 2025, "month": 10, "date": 31, "hours": 6, "utc": true},
          {"year": 2025, "month": 10, "date": 31, "hours": 9, "utc": true},
          {"year": 2025, "month": 10, "date": 31, "hours": 12, "utc": true},
          {"year": 2025, "month": 10, "date": 31, "hours": 15, "utc": true},
          {"year": 2025, "month": 10, "date": 31, "hours": 18, "utc": true},
          {"year": 2025, "month": 10, "date": 31, "hours": 21, "utc": true},
          {"year": 2025, "month": 11, "date": 1, "hours": 0, "utc": true},
          {"year": 2025, "month": 11, "date": 1, "hours": 3, "utc": true},
          {"year": 2025, "month": 11, "date": 1, "hours": 6, "utc": true},
          {"year": 2025, "month": 11, "date": 1, "hours": 9, "utc": true},
          {"year": 2025, "month": 11, "date": 1, "hours": 12, "utc": true},
          {"year": 2025, "month": 11, "date": 1, "hours": 15, "utc": true},
          {"year": 2025, "month": 11, "date": 1, "hours": 18, "utc": true},
          {"year": 2025, "month": 11, "date": 1, "hours": 21, "utc": true},
          {"year": 2025, "month": 11, "date": 2, "hours": 0, "utc": true}
        ], "labelExpr": "utchours(datum.value) == 0 ? (utcdate(datum.value) == 1 ? 'Nov' : '' + utcdate(datum.value)) : utcFormat(datum.value, '%H:%M')"}},
        "y": {"field": "p", "type": "quantitative", "axis": {"orient": "right", "values": [2.62, 2.60, 2.58, 2.56, 2.54, 2.52, 2.50, 2.48, 2.46, 2.44, 2.42, 2.40, 2.36, 2.34, 2.325, 2.31, 2.295, 2.28, 2.265, 2.25, 2.235, 2.221, 2.207, 2.194, 2.181], "format": ".4f", "title": "USDT ▾", "titleAngle": 0, "titleX": 17, "titleY": 9, "titleAlign": "center", "titleBaseline": "middle"}},
        "text": {"field": "s"},
        "size": {"field": "k", "type": "nominal", "legend": null, "scale": {"domain": ["price", "timer", "logo", "pro"], "range": [7, 6.5, 11, 4.5]}},
        "color": {"field": "k", "type": "nominal", "legend": null, "scale": {"domain": ["price", "timer", "logo", "pro"], "range": ["#ffffff", "#d8d8d8", "#131722", "#ffffff"]}}
      }
    }
  ],
  "resolve": {"axis": {"x": "independent", "y": "independent"}, "scale": {"color": "independent", "fill": "independent", "stroke": "independent", "size": "independent"}}
}
